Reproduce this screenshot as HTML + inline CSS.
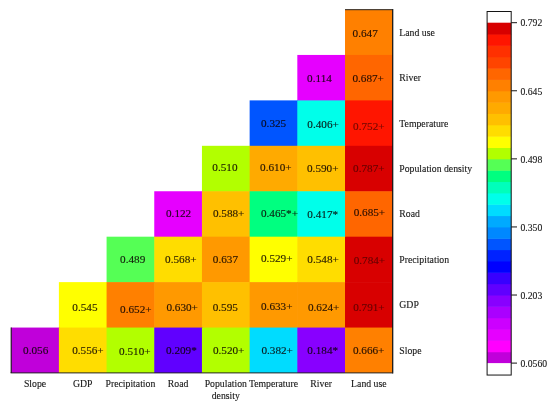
<!DOCTYPE html>
<html><head><meta charset="utf-8"><title>Heatmap</title>
<style>
html,body{margin:0;padding:0;background:#fff;}
body{filter:blur(0.4px);width:550px;height:411px;position:relative;overflow:hidden;font-family:"Liberation Serif","Times New Roman",serif;color:#111;}
svg{position:absolute;left:0;top:0;}
.v{position:absolute;font-size:11.2px;line-height:14px;white-space:nowrap;color:rgba(10,0,0,.86);-webkit-text-stroke:0.18px rgba(10,0,0,.7);}
.w{color:rgba(40,0,0,.62);-webkit-text-stroke:0.18px rgba(40,0,0,.45);}
.l{position:absolute;font-size:9.75px;line-height:12px;white-space:nowrap;color:#151515;-webkit-text-stroke:0.12px #222;}
.t{position:absolute;font-size:9.7px;line-height:12px;white-space:nowrap;color:#151515;-webkit-text-stroke:0.12px #222;}
.x{text-align:center;}
</style></head><body>
<svg width="550" height="411" viewBox="0 0 550 411">

<rect x="345.01" y="9.5" width="47.69" height="46.04" fill="#FF8000"/>
<rect x="297.32" y="54.94" width="48.29" height="46.04" fill="#E600FF"/>
<rect x="345.01" y="54.94" width="47.69" height="46.04" fill="#FF6600"/>
<rect x="249.64" y="100.38" width="48.29" height="46.04" fill="#0055FF"/>
<rect x="297.32" y="100.38" width="48.29" height="46.04" fill="#00FFEA"/>
<rect x="345.01" y="100.38" width="47.69" height="46.04" fill="#FF1500"/>
<rect x="201.95" y="145.81" width="48.29" height="46.04" fill="#B2FF00"/>
<rect x="249.64" y="145.81" width="48.29" height="46.04" fill="#FFAA00"/>
<rect x="297.32" y="145.81" width="48.29" height="46.04" fill="#FFC000"/>
<rect x="345.01" y="145.81" width="47.69" height="46.04" fill="#D80000"/>
<rect x="154.26" y="191.25" width="48.29" height="46.04" fill="#E600FF"/>
<rect x="201.95" y="191.25" width="48.29" height="46.04" fill="#FFC000"/>
<rect x="249.64" y="191.25" width="48.29" height="46.04" fill="#00FF80"/>
<rect x="297.32" y="191.25" width="48.29" height="46.04" fill="#00FFEA"/>
<rect x="345.01" y="191.25" width="47.69" height="46.04" fill="#FF6600"/>
<rect x="106.58" y="236.69" width="48.29" height="46.04" fill="#55FF55"/>
<rect x="154.26" y="236.69" width="48.29" height="46.04" fill="#FFDD00"/>
<rect x="201.95" y="236.69" width="48.29" height="46.04" fill="#FF9900"/>
<rect x="249.64" y="236.69" width="48.29" height="46.04" fill="#FFFF00"/>
<rect x="297.32" y="236.69" width="48.29" height="46.04" fill="#FFDD00"/>
<rect x="345.01" y="236.69" width="47.69" height="46.04" fill="#D80000"/>
<rect x="58.89" y="282.12" width="48.29" height="46.04" fill="#FFFF00"/>
<rect x="106.58" y="282.12" width="48.29" height="46.04" fill="#FF8000"/>
<rect x="154.26" y="282.12" width="48.29" height="46.04" fill="#FF9900"/>
<rect x="201.95" y="282.12" width="48.29" height="46.04" fill="#FFC000"/>
<rect x="249.64" y="282.12" width="48.29" height="46.04" fill="#FF9900"/>
<rect x="297.32" y="282.12" width="48.29" height="46.04" fill="#FF9900"/>
<rect x="345.01" y="282.12" width="47.69" height="46.04" fill="#D80000"/>
<rect x="11.2" y="327.56" width="48.29" height="45.44" fill="#C000DA"/>
<rect x="58.89" y="327.56" width="48.29" height="45.44" fill="#FFDD00"/>
<rect x="106.58" y="327.56" width="48.29" height="45.44" fill="#B2FF00"/>
<rect x="154.26" y="327.56" width="48.29" height="45.44" fill="#6000FF"/>
<rect x="201.95" y="327.56" width="48.29" height="45.44" fill="#B2FF00"/>
<rect x="249.64" y="327.56" width="48.29" height="45.44" fill="#00DCFF"/>
<rect x="297.32" y="327.56" width="48.29" height="45.44" fill="#8800FF"/>
<rect x="345.01" y="327.56" width="47.69" height="45.44" fill="#FF8000"/>
<g stroke="#141414" stroke-width="1.25" fill="none" stroke-linecap="butt">
<path d="M392.7 8.9V373.6"/>
<path d="M10.6 372.9H392.7" stroke-width="1" stroke="#262626"/>
<path d="M11.2 327.56V373" stroke-width="1.1"/>
<path d="M345.01 9.7H392.7" stroke-width="1" stroke="#262626"/>
</g>
<rect x="487.1" y="351.75" width="24.1" height="11.35" fill="#C000DA"/>
<rect x="487.1" y="340.41" width="24.1" height="11.85" fill="#FF00FF"/>
<rect x="487.1" y="329.06" width="24.1" height="11.85" fill="#E600FF"/>
<rect x="487.1" y="317.71" width="24.1" height="11.85" fill="#CC00FF"/>
<rect x="487.1" y="306.37" width="24.1" height="11.85" fill="#AA00FF"/>
<rect x="487.1" y="295.02" width="24.1" height="11.85" fill="#8800FF"/>
<rect x="487.1" y="283.67" width="24.1" height="11.85" fill="#6000FF"/>
<rect x="487.1" y="272.33" width="24.1" height="11.85" fill="#3800FF"/>
<rect x="487.1" y="260.98" width="24.1" height="11.85" fill="#0000FF"/>
<rect x="487.1" y="249.63" width="24.1" height="11.85" fill="#0022FF"/>
<rect x="487.1" y="238.29" width="24.1" height="11.85" fill="#0055FF"/>
<rect x="487.1" y="226.94" width="24.1" height="11.85" fill="#0088FF"/>
<rect x="487.1" y="215.59" width="24.1" height="11.85" fill="#00AAFF"/>
<rect x="487.1" y="204.25" width="24.1" height="11.85" fill="#00DCFF"/>
<rect x="487.1" y="192.9" width="24.1" height="11.85" fill="#00FFEA"/>
<rect x="487.1" y="181.55" width="24.1" height="11.85" fill="#00FFBB"/>
<rect x="487.1" y="170.21" width="24.1" height="11.85" fill="#00FF80"/>
<rect x="487.1" y="158.86" width="24.1" height="11.85" fill="#55FF55"/>
<rect x="487.1" y="147.51" width="24.1" height="11.85" fill="#B2FF00"/>
<rect x="487.1" y="136.17" width="24.1" height="11.85" fill="#FFFF00"/>
<rect x="487.1" y="124.82" width="24.1" height="11.85" fill="#FFDD00"/>
<rect x="487.1" y="113.47" width="24.1" height="11.85" fill="#FFC000"/>
<rect x="487.1" y="102.13" width="24.1" height="11.85" fill="#FFAA00"/>
<rect x="487.1" y="90.78" width="24.1" height="11.85" fill="#FF9900"/>
<rect x="487.1" y="79.43" width="24.1" height="11.85" fill="#FF8000"/>
<rect x="487.1" y="68.09" width="24.1" height="11.85" fill="#FF6600"/>
<rect x="487.1" y="56.74" width="24.1" height="11.85" fill="#FF4400"/>
<rect x="487.1" y="45.39" width="24.1" height="11.85" fill="#FF3000"/>
<rect x="487.1" y="34.05" width="24.1" height="11.85" fill="#FF1500"/>
<rect x="487.1" y="22.7" width="24.1" height="11.85" fill="#D80000"/>
<rect x="487.1" y="11.5" width="24.1" height="363.55" fill="none" stroke="#141414" stroke-width="1"/>
<path d="M511.2 22.7H517" stroke="#141414" stroke-width="1"/>
<path d="M511.2 90.78H517" stroke="#141414" stroke-width="1"/>
<path d="M511.2 158.86H517" stroke="#141414" stroke-width="1"/>
<path d="M511.2 226.94H517" stroke="#141414" stroke-width="1"/>
<path d="M511.2 295.02H517" stroke="#141414" stroke-width="1"/>
<path d="M511.2 363.1H517" stroke="#141414" stroke-width="1"/>
</svg>
<div class="v" style="left:352.6px;top:26.42px">0.647</div>
<div class="v" style="left:307.1px;top:70.52px">0.114</div>
<div class="v" style="left:352.4px;top:70.52px">0.687+</div>
<div class="v" style="left:261px;top:116.32px">0.325</div>
<div class="v" style="left:307.3px;top:117.12px">0.406+</div>
<div class="v w" style="left:353.1px;top:119.02px">0.752+</div>
<div class="v" style="left:212.3px;top:160.42px">0.510</div>
<div class="v" style="left:260.1px;top:160.42px">0.610+</div>
<div class="v" style="left:307px;top:161.32px">0.590+</div>
<div class="v w" style="left:353.1px;top:161.32px">0.787+</div>
<div class="v" style="left:166px;top:206.42px">0.122</div>
<div class="v" style="left:212.9px;top:205.92px">0.588+</div>
<div class="v" style="left:260.9px;top:206.42px">0.465*+</div>
<div class="v" style="left:307.3px;top:206.72px">0.417*</div>
<div class="v" style="left:353.7px;top:205.42px">0.685+</div>
<div class="v" style="left:120.1px;top:251.72px">0.489</div>
<div class="v" style="left:165.1px;top:251.72px">0.568+</div>
<div class="v" style="left:212.8px;top:251.72px">0.637</div>
<div class="v" style="left:261px;top:250.92px">0.529+</div>
<div class="v" style="left:307.3px;top:251.72px">0.548+</div>
<div class="v w" style="left:353.7px;top:252.82px">0.784+</div>
<div class="v" style="left:72.3px;top:300.22px">0.545</div>
<div class="v" style="left:120.1px;top:302.42px">0.652+</div>
<div class="v" style="left:166.4px;top:300.22px">0.630+</div>
<div class="v" style="left:212.7px;top:300.22px">0.595</div>
<div class="v" style="left:261px;top:299.12px">0.633+</div>
<div class="v" style="left:307.9px;top:299.62px">0.624+</div>
<div class="v w" style="left:353.2px;top:300.22px">0.791+</div>
<div class="v" style="left:23.1px;top:342.92px">0.056</div>
<div class="v" style="left:72.2px;top:343.42px">0.556+</div>
<div class="v" style="left:119.1px;top:343.72px">0.510+</div>
<div class="v" style="left:166px;top:343.42px">0.209*</div>
<div class="v" style="left:212.9px;top:343.42px">0.520+</div>
<div class="v" style="left:261.4px;top:343.42px">0.382+</div>
<div class="v" style="left:307.3px;top:343.42px">0.184*</div>
<div class="v" style="left:352.9px;top:343.42px">0.666+</div>
<div class="l" style="left:399.3px;top:26.9px">Land use</div>
<div class="l" style="left:399.3px;top:72.27px">River</div>
<div class="l" style="left:399.3px;top:117.65px">Temperature</div>
<div class="l" style="left:399.3px;top:163.02px">Population density</div>
<div class="l" style="left:399.3px;top:208.4px">Road</div>
<div class="l" style="left:399.3px;top:253.77px">Precipitation</div>
<div class="l" style="left:399.3px;top:299.15px">GDP</div>
<div class="l" style="left:399.3px;top:344.52px">Slope</div>
<div class="l x" style="left:1.2px;top:378.31px;width:67.69px">Slope</div>
<div class="l x" style="left:48.89px;top:378.31px;width:67.69px">GDP</div>
<div class="l x" style="left:96.58px;top:378.31px;width:67.69px">Precipitation</div>
<div class="l x" style="left:144.26px;top:378.31px;width:67.69px">Road</div>
<div class="l x" style="left:191.95px;top:378.31px;width:67.69px">Population<br>density</div>
<div class="l x" style="left:239.64px;top:378.31px;width:67.69px">Temperature</div>
<div class="l x" style="left:287.32px;top:378.31px;width:67.69px">River</div>
<div class="l x" style="left:335.01px;top:378.31px;width:67.69px">Land use</div>
<div class="t" style="left:520.5px;top:17.43px">0.792</div>
<div class="t" style="left:520.5px;top:85.51px">0.645</div>
<div class="t" style="left:520.5px;top:153.59px">0.498</div>
<div class="t" style="left:520.5px;top:221.67px">0.350</div>
<div class="t" style="left:520.5px;top:289.75px">0.203</div>
<div class="t" style="left:520.5px;top:357.83px">0.0560</div>
</body></html>
